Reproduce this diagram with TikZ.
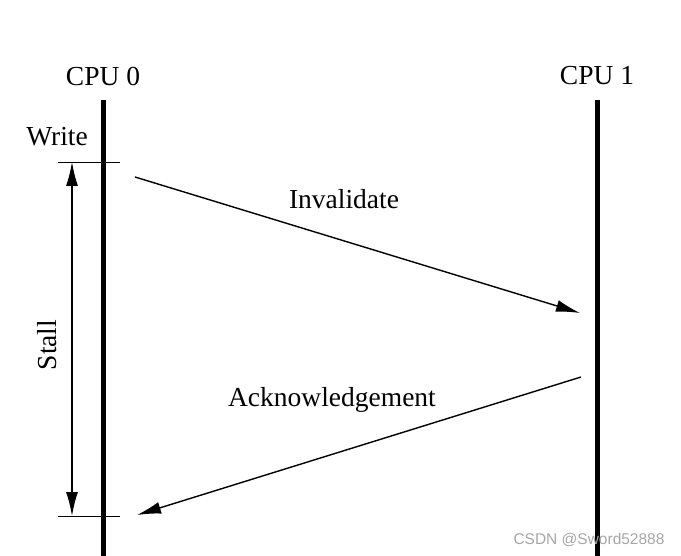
\documentclass[tikz,border=0pt]{standalone}
\usepackage{fontspec}
\setmainfont{Liberation Serif}
\newfontfamily\wmfont{Liberation Sans}
\usetikzlibrary{arrows.meta}
\begin{document}
\begin{tikzpicture}[x=1pt,y=-1pt,
  lbl/.style={font=\fontsize{27.5}{32}\selectfont, inner sep=0pt},
  cpuline/.style={line width=5pt},
  tick/.style={line width=0.9pt},
  msg/.style={line width=1.4pt,-{Latex[length=24pt,width=12pt]}},
  stall/.style={line width=1.4pt,{Latex[length=24pt,width=12pt]}-{Latex[length=24pt,width=12pt]}}]
\useasboundingbox (0,0) rectangle (681,556);
\node[lbl] (c0) at (103,76) {CPU 0};
\node[lbl] (c1) at (597,76) {CPU 1};
\coordinate (c0t) at (103,100); \coordinate (c0b) at (103,556);
\coordinate (c1t) at (597,100); \coordinate (c1b) at (597,556);
\draw[cpuline] (c0t) -- (c0b);
\draw[cpuline] (c1t) -- (c1b);
\node[lbl] (w) at (57,137) {Write};
\coordinate (t1a) at (58,162); \coordinate (t1b) at (120,162);
\coordinate (t2a) at (58,516); \coordinate (t2b) at (120,516);
\draw[tick] (t1a) -- (t1b);
\draw[tick] (t2a) -- (t2b);
\coordinate (s1) at (72,162); \coordinate (s2) at (72,516);
\draw[stall] (s1) -- (s2);
\node[lbl,rotate=90] (st) at (47,345) {Stall};
\coordinate (i1) at (135,177); \coordinate (i2) at (580,313);
\draw[msg] (i1) -- (i2);
\node[lbl] (il) at (344,199) {Invalidate};
\coordinate (a1) at (581,377); \coordinate (a2) at (137,515);
\draw[msg] (a1) -- (a2);
\node[lbl] (al) at (332,400) {Acknowledgement};
\node[font=\wmfont\fontsize{15.5}{18}\selectfont,text=gray!70,inner sep=0pt] (wm) at (589,540) {CSDN @Sword52888};
\end{tikzpicture}
\end{document}
